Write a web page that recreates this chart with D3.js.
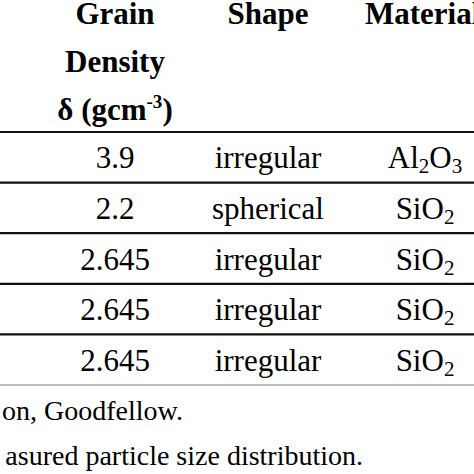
<!DOCTYPE html>
<html><head><meta charset="utf-8">
<script src="https://cdn.jsdelivr.net/npm/d3@7"></script>
<style>body{margin:0;background:#fff}</style>
</head><body>
<script>
var w = 474, h = 474;
var headers = [["Grain", "Density", "δ (gcm"], ["Shape"], ["Material"]];
var density = ["3.9", "2.2", "2.645", "2.645", "2.645"];
var shapes = ["irregular", "spherical", "irregular", "irregular", "irregular"];
var materials = [["Al", "2", "O", "3"], ["SiO", "2"], ["SiO", "2"], ["SiO", "2"], ["SiO", "2"]];
var notes = ["on, Goodfellow.", "asured particle size distribution."];

var svg = d3.select("body").append("svg").attr("width", w).attr("height", h)
  .style("font-family", "'Liberation Serif', serif").style("font-size", "31px");

var x = d3.scaleOrdinal().domain([0, 1, 2]).range([115, 268, 425]);
var y = d3.scaleBand().domain(d3.range(density.length)).range([132, 385]);

// header
headers.forEach(function(lines, c) {
  lines.forEach(function(t, i) {
    var tx = svg.append("text").attr("x", x(c)).attr("y", 24 + i * 48)
      .attr("text-anchor", c == 2 ? "start" : "middle").attr("font-weight", "bold").text(t);
    if (c == 2) tx.attr("x", 365);
    if (c == 0 && i == 2) {
      tx.append("tspan").attr("font-size", "19px").attr("dy", -12).text("-3");
      tx.append("tspan").attr("dy", 12).text(")");
    }
  });
});

// rules
svg.selectAll("line.r").data(d3.range(density.length + 1)).enter().append("line")
  .attr("x1", 0).attr("x2", w)
  .attr("y1", function(d) { return d < density.length ? y(d) : y.range()[1]; })
  .attr("y2", function(d) { return d < density.length ? y(d) : y.range()[1]; })
  .attr("stroke", function(d) { return d < density.length ? "#111" : "#aaa"; })
  .attr("stroke-width", function(d) { return d < density.length ? 2.2 : 1.5; });

var rowY = function(i) { return y(i) + y.bandwidth() / 2 + 11; };

svg.selectAll("text.d").data(density).enter().append("text")
  .attr("x", x(0)).attr("y", function(d, i) { return rowY(i); })
  .attr("text-anchor", "middle").text(function(d) { return d; });
svg.selectAll("text.s").data(shapes).enter().append("text")
  .attr("x", x(1)).attr("y", function(d, i) { return rowY(i); })
  .attr("text-anchor", "middle").text(function(d) { return d; });
var mt = svg.selectAll("text.m").data(materials).enter().append("text")
  .attr("x", x(2)).attr("y", function(d, i) { return rowY(i); })
  .attr("text-anchor", "middle");
mt.each(function(parts) {
  var t = d3.select(this);
  parts.forEach(function(p, j) {
    var sub = j % 2 == 1;
    t.append("tspan").attr("font-size", sub ? "21px" : "31px")
      .attr("dy", sub ? 5 : (j > 0 ? -5 : 0)).text(p);
  });
});

// footnotes
svg.selectAll("text.n").data(notes).enter().append("text")
  .attr("x", function(d, i) { return i == 0 ? 183 : 363; })
  .attr("y", function(d, i) { return 420 + i * 45; })
  .attr("text-anchor", "end").attr("font-size", "28px").text(function(d) { return d; });
</script>
</body></html>
